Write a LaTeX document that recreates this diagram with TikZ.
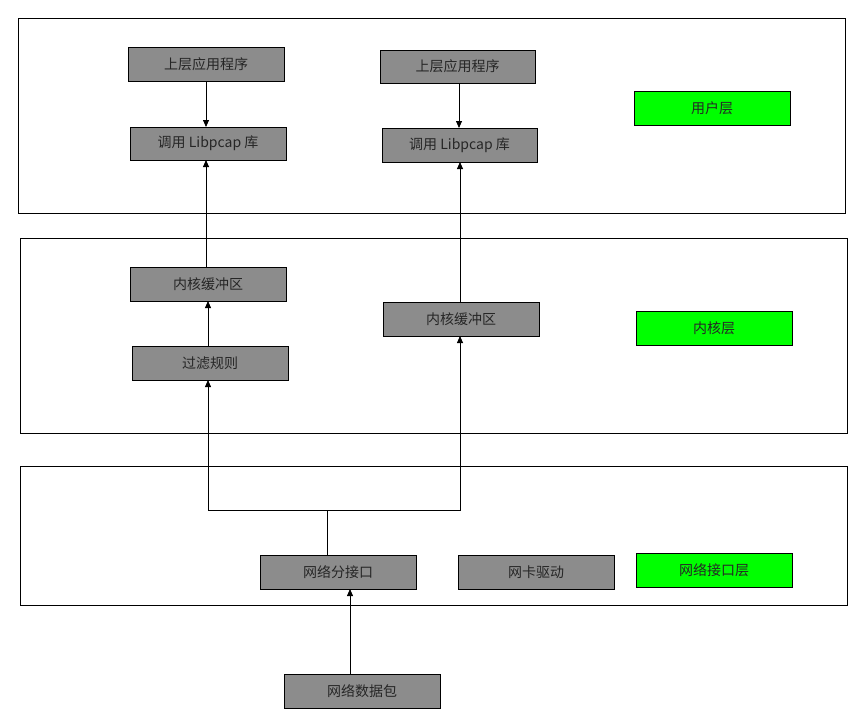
\documentclass[tikz,border=0pt]{standalone}
\usepackage{fontspec}
\newfontfamily\cjk{Noto Sans CJK SC}
\usetikzlibrary{arrows.meta}
\definecolor{boxgray}{RGB}{140,140,140}
\begin{document}
\begin{tikzpicture}[x=1pt,y=-1pt,
 layer/.style={draw=black,line width=0.8pt},
 gbox/.style={draw=black,fill=boxgray,line width=0.6pt},
 grn/.style={draw=black,fill=green,line width=0.6pt},
 lbl/.style={font=\cjk\fontsize{14}{16}\selectfont,text=black!85},
 arr/.style={line width=0.8pt,-{Triangle[length=7pt,width=6pt]}},
 ln/.style={line width=0.8pt}]
\useasboundingbox (0,0) rectangle (857,712);
\draw[layer] (18,18) rectangle (845,213);
\draw[layer] (20,238) rectangle (847,433);
\draw[layer] (20,466) rectangle (847,605);
\newcommand{\bx}[6]{\draw[#1] (#2,#3) rectangle (#4,#5); \node[lbl] at ({(#2+#4)/2},{(#3+#5)/2}) {#6};}
\bx{gbox}{128}{47}{284}{81}{上层应用程序}
\coordinate (a1t) at (206,47); \coordinate (a1b) at (206,81);
\bx{gbox}{130}{127}{286}{160}{调用 Libpcap 库}
\coordinate (a2b) at (206,160); \coordinate (a2t) at (206,127);
\bx{gbox}{380}{50}{535}{83}{上层应用程序}
\coordinate (b1b) at (459,83);
\bx{gbox}{382}{128}{537}{162}{调用 Libpcap 库}
\coordinate (b2t) at (459,128); \coordinate (b2b) at (460,162);
\bx{grn}{634}{91}{790}{125}{用户层}
\bx{gbox}{130}{267}{286}{301}{内核缓冲区}
\coordinate (kbt) at (206,267); \coordinate (kbb) at (208,301);
\bx{gbox}{132}{346}{288}{380}{过滤规则}
\coordinate (flt) at (208,346); \coordinate (flb) at (208,380);
\bx{gbox}{383}{302}{539}{336}{内核缓冲区}
\coordinate (krt) at (460,302); \coordinate (krb) at (460,336);
\bx{grn}{636}{311}{792}{345}{内核层}
\bx{gbox}{260}{555}{416}{589}{网络分接口}
\coordinate (nit) at (327,555); \coordinate (nib) at (350,589);
\bx{gbox}{458}{555}{614}{589}{网卡驱动}
\bx{grn}{636}{553}{792}{587}{网络接口层}
\bx{gbox}{284}{674}{440}{708}{网络数据包}
\coordinate (pkt) at (350,674);
\draw[arr] (a1b) -- (a2t);
\draw[arr] (b1b) -- (b2t);
\draw[arr] (kbt) -- (a2b);
\draw[arr] (flt) -- (kbb);
\draw[arr] (krt) -- (b2b);
\draw[ln] (nit) -- (327,510);
\draw[arr] (327,510) -| (flb);
\draw[arr] (327,510) -| (krb);
\draw[arr] (pkt) -- (nib);
\end{tikzpicture}
\end{document}
